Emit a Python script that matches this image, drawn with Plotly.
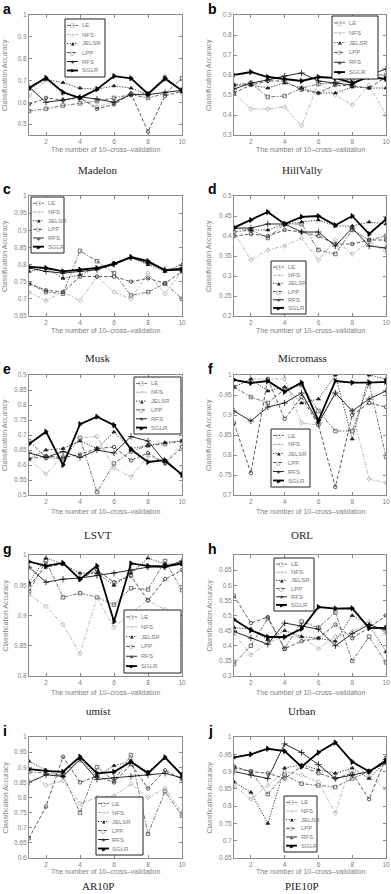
import plotly.graph_objects as go

W, H = 391, 894

runs = [1, 2, 3, 4, 5, 6, 7, 8, 9, 10]
methods = ["LE", "NFS", "JELSR", "LPP", "RFS", "SGLR"]
letters = ["a", "b", "c", "d", "e", "f", "g", "h", "i", "j"]
names = ["Madelon", "HillVally", "Musk", "Micromass", "LSVT", "ORL", "umist", "Urban", "AR10P", "PIE10P"]
x_title = "The number of 10\u2013cross\u2013validation"
y_title = "Classification Accuracy"

# ---- data ----
madelon_le = [0.56, 0.57, 0.585, 0.595, 0.605, 0.62, 0.635, 0.62, 0.64, 0.71]
madelon_nfs = [0.63, 0.70, 0.64, 0.62, 0.58, 0.60, 0.64, 0.64, 0.72, 0.64]
madelon_jelsr = [0.66, 0.705, 0.69, 0.665, 0.66, 0.675, 0.665, 0.635, 0.715, 0.655]
madelon_lpp = [0.59, 0.62, 0.61, 0.62, 0.57, 0.59, 0.64, 0.465, 0.63, 0.65]
madelon_rfs = [0.67, 0.60, 0.61, 0.625, 0.615, 0.60, 0.635, 0.635, 0.645, 0.655]
madelon_sglr = [0.666, 0.712, 0.646, 0.62, 0.66, 0.72, 0.71, 0.638, 0.708, 0.654]

hill_le = [0.55, 0.56, 0.49, 0.495, 0.535, 0.555, 0.56, 0.58, 0.60, 0.60]
hill_nfs = [0.51, 0.43, 0.43, 0.44, 0.345, 0.56, 0.50, 0.45, 0.55, 0.40]
hill_jelsr = [0.55, 0.55, 0.535, 0.56, 0.535, 0.51, 0.51, 0.54, 0.535, 0.535]
hill_lpp = [0.51, 0.55, 0.57, 0.57, 0.525, 0.51, 0.55, 0.545, 0.535, 0.59]
hill_rfs = [0.53, 0.56, 0.575, 0.595, 0.61, 0.57, 0.56, 0.55, 0.60, 0.63]
hill_sglr = [0.60, 0.615, 0.59, 0.58, 0.57, 0.59, 0.585, 0.56, 0.59, 0.58]

musk_le = [0.745, 0.72, 0.715, 0.84, 0.81, 0.775, 0.71, 0.72, 0.745, 0.70]
musk_nfs = [0.72, 0.695, 0.72, 0.695, 0.765, 0.72, 0.70, 0.775, 0.715, 0.78]
musk_jelsr = [0.78, 0.79, 0.76, 0.77, 0.79, 0.805, 0.82, 0.80, 0.78, 0.80]
musk_lpp = [0.745, 0.725, 0.72, 0.765, 0.765, 0.765, 0.75, 0.76, 0.745, 0.78]
musk_rfs = [0.79, 0.78, 0.775, 0.78, 0.785, 0.80, 0.82, 0.805, 0.785, 0.79]
musk_sglr = [0.793, 0.79, 0.78, 0.785, 0.79, 0.802, 0.822, 0.81, 0.783, 0.785]

micro_le = [0.41, 0.415, 0.395, 0.43, 0.43, 0.365, 0.355, 0.415, 0.39, 0.40]
micro_nfs = [0.41, 0.34, 0.365, 0.375, 0.395, 0.34, 0.39, 0.355, 0.385, 0.36]
micro_jelsr = [0.42, 0.415, 0.415, 0.43, 0.435, 0.44, 0.425, 0.425, 0.435, 0.43]
micro_lpp = [0.40, 0.405, 0.40, 0.415, 0.41, 0.40, 0.38, 0.38, 0.39, 0.39]
micro_rfs = [0.42, 0.42, 0.43, 0.43, 0.41, 0.41, 0.375, 0.42, 0.375, 0.37]
micro_sglr = [0.421, 0.44, 0.46, 0.43, 0.448, 0.45, 0.427, 0.45, 0.405, 0.442]

lsvt_le = [0.68, 0.625, 0.62, 0.69, 0.51, 0.605, 0.645, 0.665, 0.67, 0.68]
lsvt_nfs = [0.62, 0.57, 0.63, 0.69, 0.695, 0.59, 0.56, 0.63, 0.61, 0.67]
lsvt_jelsr = [0.62, 0.65, 0.655, 0.68, 0.655, 0.71, 0.655, 0.665, 0.675, 0.68]
lsvt_lpp = [0.62, 0.63, 0.625, 0.635, 0.655, 0.66, 0.615, 0.64, 0.605, 0.66]
lsvt_rfs = [0.64, 0.625, 0.645, 0.625, 0.65, 0.64, 0.695, 0.68, 0.61, 0.57]
lsvt_sglr = [0.67, 0.711, 0.60, 0.736, 0.761, 0.733, 0.652, 0.61, 0.616, 0.567]

orl_le = [0.97, 0.945, 0.93, 0.965, 0.975, 0.91, 0.86, 0.86, 0.98, 0.795]
orl_nfs = [0.97, 0.99, 0.99, 0.99, 0.88, 0.875, 0.955, 0.91, 0.74, 0.73]
orl_jelsr = [0.97, 0.99, 0.96, 0.97, 0.93, 0.94, 1.0, 0.84, 1.0, 0.99]
orl_lpp = [0.88, 0.755, 0.99, 0.89, 0.945, 0.875, 0.72, 0.90, 0.93, 0.92]
orl_rfs = [0.91, 0.885, 0.92, 0.93, 0.955, 0.88, 0.955, 0.91, 0.94, 0.96]
orl_sglr = [0.988, 0.98, 0.985, 0.958, 0.981, 0.886, 0.985, 0.981, 0.981, 0.983]

umist_le = [0.94, 0.99, 0.93, 0.937, 0.93, 0.918, 0.945, 0.943, 0.99, 0.942]
umist_nfs = [0.935, 0.915, 0.885, 0.837, 0.93, 0.88, 0.905, 0.925, 0.91, 0.87]
umist_jelsr = [0.955, 0.995, 0.985, 0.97, 0.97, 0.95, 0.97, 0.995, 0.985, 0.985]
umist_lpp = [0.95, 0.98, 0.985, 0.96, 0.975, 0.955, 0.965, 0.925, 0.96, 0.975]
umist_rfs = [0.98, 0.955, 0.96, 0.962, 0.966, 0.97, 0.975, 0.98, 0.98, 0.99]
umist_sglr = [0.989, 0.982, 0.987, 0.96, 0.982, 0.89, 0.986, 0.982, 0.981, 0.986]

urban_le = [0.34, 0.40, 0.49, 0.39, 0.48, 0.46, 0.51, 0.35, 0.43, 0.345]
urban_nfs = [0.44, 0.37, 0.41, 0.43, 0.43, 0.39, 0.43, 0.445, 0.48, 0.44]
urban_jelsr = [0.46, 0.455, 0.42, 0.45, 0.43, 0.425, 0.415, 0.50, 0.47, 0.38]
urban_lpp = [0.565, 0.475, 0.495, 0.39, 0.415, 0.425, 0.47, 0.425, 0.46, 0.50]
urban_rfs = [0.447, 0.425, 0.405, 0.475, 0.465, 0.455, 0.40, 0.44, 0.47, 0.45]
urban_sglr = [0.487, 0.451, 0.429, 0.429, 0.456, 0.528, 0.523, 0.524, 0.458, 0.459]

ar_le = [0.885, 0.88, 0.875, 0.75, 0.90, 0.855, 0.94, 0.68, 0.82, 0.74]
ar_nfs = [0.885, 0.84, 0.855, 0.78, 0.80, 0.805, 0.845, 0.80, 0.83, 0.75]
ar_jelsr = [0.92, 0.89, 0.87, 0.93, 0.87, 0.905, 0.92, 0.885, 0.93, 0.87]
ar_lpp = [0.665, 0.77, 0.935, 0.85, 0.87, 0.85, 0.91, 0.83, 0.89, 0.86]
ar_rfs = [0.85, 0.875, 0.87, 0.925, 0.86, 0.865, 0.87, 0.875, 0.88, 0.865]
ar_sglr = [0.894, 0.888, 0.885, 0.935, 0.88, 0.885, 0.918, 0.88, 0.933, 0.874]

pie_le = [0.91, 0.90, 0.835, 0.89, 0.865, 0.86, 0.855, 0.88, 0.90, 0.925]
pie_nfs = [0.86, 0.82, 0.86, 0.90, 0.89, 0.87, 0.78, 0.93, 0.885, 0.85]
pie_jelsr = [0.87, 0.84, 0.75, 0.91, 0.92, 0.905, 0.895, 0.91, 0.88, 0.93]
pie_lpp = [0.915, 0.90, 0.895, 0.88, 0.915, 0.895, 0.88, 0.895, 0.82, 0.94]
pie_rfs = [0.90, 0.89, 0.88, 0.98, 0.955, 0.92, 0.88, 0.89, 0.90, 0.935]
pie_sglr = [0.941, 0.95, 0.966, 0.959, 0.914, 0.955, 0.984, 0.928, 0.90, 0.93]

panel_series = [
    [madelon_le, madelon_nfs, madelon_jelsr, madelon_lpp, madelon_rfs, madelon_sglr],
    [hill_le, hill_nfs, hill_jelsr, hill_lpp, hill_rfs, hill_sglr],
    [musk_le, musk_nfs, musk_jelsr, musk_lpp, musk_rfs, musk_sglr],
    [micro_le, micro_nfs, micro_jelsr, micro_lpp, micro_rfs, micro_sglr],
    [lsvt_le, lsvt_nfs, lsvt_jelsr, lsvt_lpp, lsvt_rfs, lsvt_sglr],
    [orl_le, orl_nfs, orl_jelsr, orl_lpp, orl_rfs, orl_sglr],
    [umist_le, umist_nfs, umist_jelsr, umist_lpp, umist_rfs, umist_sglr],
    [urban_le, urban_nfs, urban_jelsr, urban_lpp, urban_rfs, urban_sglr],
    [ar_le, ar_nfs, ar_jelsr, ar_lpp, ar_rfs, ar_sglr],
    [pie_le, pie_nfs, pie_jelsr, pie_lpp, pie_rfs, pie_sglr],
]

# y-axis ranges and tick labels per panel
y_ranges = [[0.45, 1.0], [0.3, 0.9], [0.65, 1.0], [0.2, 0.5], [0.5, 0.9],
            [0.7, 1.0], [0.8, 1.0], [0.3, 0.7], [0.6, 1.0], [0.65, 1.0]]
y_ticks = [
    ["0.5", "0.6", "0.7", "0.8", "0.9", "1"],
    ["0.3", "0.4", "0.5", "0.6", "0.7", "0.8", "0.9"],
    ["0.65", "0.7", "0.75", "0.8", "0.85", "0.9", "0.95", "1"],
    ["0.2", "0.25", "0.3", "0.35", "0.4", "0.45", "0.5"],
    ["0.5", "0.55", "0.6", "0.65", "0.7", "0.75", "0.8", "0.85", "0.9"],
    ["0.7", "0.75", "0.8", "0.85", "0.9", "0.95", "1"],
    ["0.8", "0.85", "0.9", "0.95", "1"],
    ["0.3", "0.35", "0.4", "0.45", "0.5", "0.55", "0.6", "0.65"],
    ["0.6", "0.65", "0.7", "0.75", "0.8", "0.85", "0.9", "0.95", "1"],
    ["0.65", "0.7", "0.75", "0.8", "0.85", "0.9", "0.95", "1"],
]
x_ticks = ["2", "4", "6", "8", "10"]

# ---- layout geometry (pixels) ----
col_x = [(29, 182), (234, 386)]
ytitle_x = [5, 209]
row_y = [(15, 135), (196, 316), (375, 495), (555, 676), (737, 858)]
xtitle_y = [150, 330, 511, 692, 871]
title_y = [170, 358, 535, 711, 886]
# legend boxes: left, top, width, height (px)
legend_boxes = [(65, 19, 40, 58), (332, 16, 46, 63), (31, 197, 33, 56), (271, 261, 35, 53),
                (134, 377, 47, 57), (271, 429, 39, 58), (124, 610, 57, 63), (274, 558, 40, 53),
                (96, 797, 47, 58), (284, 796, 33, 56)]

styles = {
    "LE": dict(color="#505050", dash="4px,1.5px,1.5px,1.5px", width=0.8, symbol="square-open", size=3.5, glyph="□", gsize=5),
    "NFS": dict(color="#a8a8a8", dash="4px,1.5px,1.5px,1.5px", width=0.8, symbol="diamond-open", size=3.5, glyph="◇", gsize=5),
    "JELSR": dict(color="#202020", dash="1.2px,1.5px", width=0.9, symbol="triangle-up", size=3.5, glyph="▲", gsize=4.5),
    "LPP": dict(color="#303030", dash="3.5px,2px", width=0.8, symbol="circle-open", size=3.5, glyph="○", gsize=5),
    "RFS": dict(color="#111111", dash="solid", width=0.9, symbol="cross-thin-open", size=4.5, glyph="+", gsize=6),
    "SGLR": dict(color="#000000", dash="solid", width=1.8, symbol="triangle-right", size=4.5, glyph="▶", gsize=5),
}

def PX(x):
    return x / W

def PY(y):
    return 1 - y / H

fig = go.Figure()
layout = dict(width=W, height=H, margin=dict(l=0, r=0, t=0, b=0, autoexpand=False),
              paper_bgcolor="white", plot_bgcolor="white", showlegend=False,
              font=dict(family="Liberation Sans, Arial, sans-serif", color="#808080"))
shapes, annotations = [], []
axis_gray = "#8a8a8a"

for i in range(10):
    r, c = i // 2, i % 2
    xs = "" if i == 0 else str(i + 1)
    x0, x1 = col_x[c]
    y0, y1 = row_y[r]
    layout["xaxis" + xs] = dict(
        domain=[PX(x0), PX(x1)], anchor="y" + xs, range=[1, 10], automargin=False,
        tickvals=[float(t) for t in x_ticks], ticktext=x_ticks,
        ticks="inside", ticklen=3, tickcolor=axis_gray, tickwidth=0.8,
        showline=True, linecolor=axis_gray, linewidth=1, mirror="ticks",
        showgrid=False, zeroline=False, ticklabeloverflow="allow",
        tickfont=dict(size=6.5, color="#808080"),
    )
    layout["yaxis" + xs] = dict(
        domain=[PY(y1), PY(y0)], anchor="x" + xs, range=y_ranges[i], automargin=False,
        tickvals=[float(t) for t in y_ticks[i]], ticktext=y_ticks[i],
        ticks="inside", ticklen=3, tickcolor=axis_gray, tickwidth=0.8,
        showline=True, linecolor=axis_gray, linewidth=1, mirror="ticks",
        showgrid=False, zeroline=False,
        tickfont=dict(size=6.5, color="#808080"),
    )
    for m, vals in zip(methods, panel_series[i]):
        s = styles[m]
        fig.add_trace(go.Scatter(
            x=runs, y=vals, name=m, mode="lines+markers",
            xaxis="x" + xs, yaxis="y" + xs, cliponaxis=True,
            line=dict(color=s["color"], dash=s["dash"], width=s["width"]),
            marker=dict(symbol=s["symbol"], size=s["size"], color=s["color"],
                        line=dict(color=s["color"], width=0.8)),
        ))
    # axis titles
    annotations.append(dict(text=x_title, x=PX((x0 + x1) / 2), y=PY(xtitle_y[r]),
                            xref="paper", yref="paper", xanchor="center", yanchor="middle",
                            showarrow=False, font=dict(size=7, color="#808080")))
    annotations.append(dict(text=y_title, x=PX(ytitle_x[c]), y=PY((y0 + y1) / 2), textangle=-90,
                            xref="paper", yref="paper", xanchor="center", yanchor="middle",
                            showarrow=False, font=dict(size=7, color="#808080")))
    # panel letter
    annotations.append(dict(text="<b>%s</b>" % letters[i], x=PX(x0 - 28), y=PY(y0 - 6.5),
                            xref="paper", yref="paper", xanchor="left", yanchor="middle",
                            showarrow=False, font=dict(size=14, color="black",
                                                       family="Liberation Sans, Arial, sans-serif")))
    # dataset title
    annotations.append(dict(text=names[i], x=PX((x0 + x1) / 2 - 8), y=PY(title_y[r]),
                            xref="paper", yref="paper", xanchor="center", yanchor="middle",
                            showarrow=False, font=dict(size=11, color="#222222",
                                                       family="Liberation Serif, Times New Roman, serif")))
    # manual legend (box + samples + labels)
    bx, by, bw, bh = legend_boxes[i]
    shapes.append(dict(type="rect", xref="paper", yref="paper",
                       x0=PX(bx), x1=PX(bx + bw), y0=PY(by + bh), y1=PY(by),
                       line=dict(color="#202020", width=1), fillcolor="white", layer="above"))
    sp = (bh - 4) / 6.0
    for k, m in enumerate(methods):
        s = styles[m]
        yy = by + 2 + sp / 2 + k * sp
        shapes.append(dict(type="line", xref="paper", yref="paper",
                           x0=PX(bx + 2), x1=PX(bx + 13), y0=PY(yy), y1=PY(yy),
                           line=dict(color=s["color"], dash=s["dash"], width=s["width"]),
                           layer="above"))
        annotations.append(dict(text=s["glyph"], x=PX(bx + 7.5), y=PY(yy), xref="paper", yref="paper",
                                xanchor="center", yanchor="middle", showarrow=False,
                                font=dict(size=s["gsize"], color=s["color"], family="DejaVu Sans")))
        annotations.append(dict(text=m, x=PX(bx + 14.5), y=PY(yy), xref="paper", yref="paper",
                                xanchor="left", yanchor="middle", showarrow=False,
                                font=dict(size=6, color="#777777")))

layout["shapes"] = shapes
layout["annotations"] = annotations
fig.update_layout(**layout)
fig.write_html("out.html", config={"displayModeBar": False},
               post_script="document.body.style.margin='0px';document.body.style.overflow='hidden';")
